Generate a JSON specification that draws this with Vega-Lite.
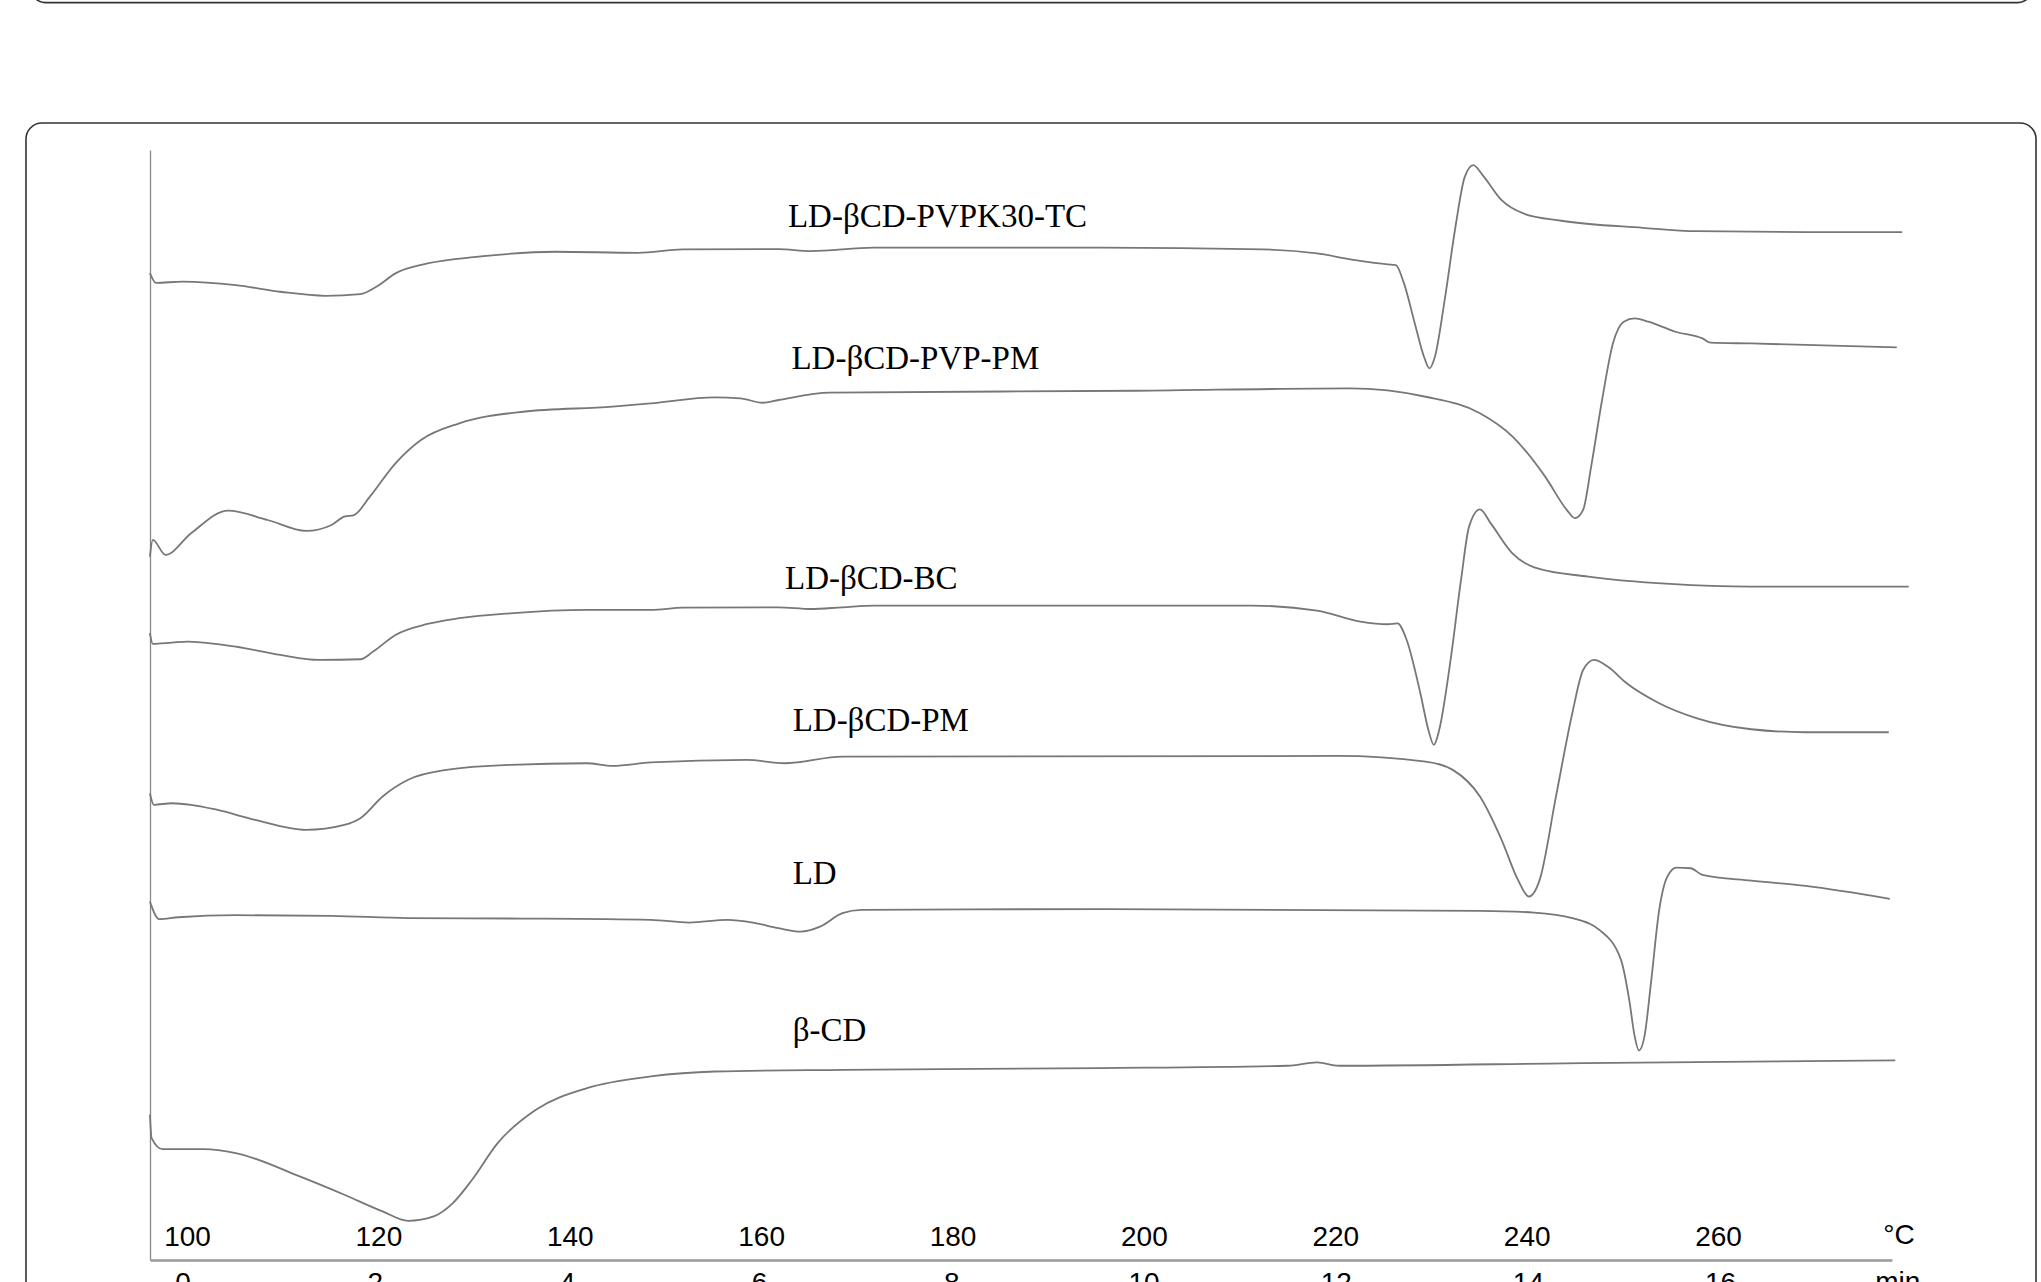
{
  "$schema": "https://vega.github.io/schema/vega-lite/v6.json",
  "autosize": {"type": "none"},
  "padding": {"left": 150, "top": 150, "right": 149, "bottom": 22},
  "width": 1742,
  "height": 1110,
  "background": "white",
  "config": {"view": {"stroke": null}, "axis": {"grid": false}},
  "datasets": {
    "curves": [
      {"sample": "LD-βCD-PVPK30-TC", "temp": 96.12, "signal": 757.5},
      {"sample": "LD-βCD-PVPK30-TC", "temp": 96.76, "signal": 750.0},
      {"sample": "LD-βCD-PVPK30-TC", "temp": 99.52, "signal": 751.0},
      {"sample": "LD-βCD-PVPK30-TC", "temp": 105.09, "signal": 748.3},
      {"sample": "LD-βCD-PVPK30-TC", "temp": 109.77, "signal": 743.2},
      {"sample": "LD-βCD-PVPK30-TC", "temp": 114.44, "signal": 740.1},
      {"sample": "LD-βCD-PVPK30-TC", "temp": 118.11, "signal": 741.4},
      {"sample": "LD-βCD-PVPK30-TC", "temp": 119.78, "signal": 747.0},
      {"sample": "LD-βCD-PVPK30-TC", "temp": 121.78, "signal": 757.3},
      {"sample": "LD-βCD-PVPK30-TC", "temp": 125.12, "signal": 764.9},
      {"sample": "LD-βCD-PVPK30-TC", "temp": 130.47, "signal": 770.1},
      {"sample": "LD-βCD-PVPK30-TC", "temp": 138.46, "signal": 773.9},
      {"sample": "LD-βCD-PVPK30-TC", "temp": 147.13, "signal": 773.1},
      {"sample": "LD-βCD-PVPK30-TC", "temp": 151.81, "signal": 775.7},
      {"sample": "LD-βCD-PVPK30-TC", "temp": 161.82, "signal": 775.9},
      {"sample": "LD-βCD-PVPK30-TC", "temp": 165.16, "signal": 774.4},
      {"sample": "LD-βCD-PVPK30-TC", "temp": 171.79, "signal": 777.0},
      {"sample": "LD-βCD-PVPK30-TC", "temp": 195.41, "signal": 777.0},
      {"sample": "LD-βCD-PVPK30-TC", "temp": 212.43, "signal": 775.7},
      {"sample": "LD-βCD-PVPK30-TC", "temp": 218.09, "signal": 772.6},
      {"sample": "LD-βCD-PVPK30-TC", "temp": 222.06, "signal": 767.5},
      {"sample": "LD-βCD-PVPK30-TC", "temp": 225.48, "signal": 764.2},
      {"sample": "LD-βCD-PVPK30-TC", "temp": 226.33, "signal": 763.7},
      {"sample": "LD-βCD-PVPK30-TC", "temp": 227.18, "signal": 749.6},
      {"sample": "LD-βCD-PVPK30-TC", "temp": 228.31, "signal": 718.9},
      {"sample": "LD-βCD-PVPK30-TC", "temp": 229.27, "signal": 693.3},
      {"sample": "LD-βCD-PVPK30-TC", "temp": 229.84, "signal": 684.4},
      {"sample": "LD-βCD-PVPK30-TC", "temp": 230.41, "signal": 693.3},
      {"sample": "LD-βCD-PVPK30-TC", "temp": 231.43, "signal": 736.8},
      {"sample": "LD-βCD-PVPK30-TC", "temp": 232.56, "signal": 793.1},
      {"sample": "LD-βCD-PVPK30-TC", "temp": 233.53, "signal": 831.4},
      {"sample": "LD-βCD-PVPK30-TC", "temp": 234.43, "signal": 840.4},
      {"sample": "LD-βCD-PVPK30-TC", "temp": 235.40, "signal": 832.7},
      {"sample": "LD-βCD-PVPK30-TC", "temp": 237.38, "signal": 813.5},
      {"sample": "LD-βCD-PVPK30-TC", "temp": 239.66, "signal": 803.3},
      {"sample": "LD-βCD-PVPK30-TC", "temp": 243.62, "signal": 797.7},
      {"sample": "LD-βCD-PVPK30-TC", "temp": 252.14, "signal": 792.3},
      {"sample": "LD-βCD-PVPK30-TC", "temp": 257.79, "signal": 789.7},
      {"sample": "LD-βCD-PVPK30-TC", "temp": 269.15, "signal": 789.0},
      {"sample": "LD-βCD-PVPK30-TC", "temp": 279.25, "signal": 789.0},

      {"sample": "LD-βCD-PVP-PM", "temp": 96.12, "signal": 539.9},
      {"sample": "LD-βCD-PVP-PM", "temp": 96.42, "signal": 552.7},
      {"sample": "LD-βCD-PVP-PM", "temp": 97.75, "signal": 541.2},
      {"sample": "LD-βCD-PVP-PM", "temp": 100.42, "signal": 557.8},
      {"sample": "LD-βCD-PVP-PM", "temp": 104.29, "signal": 575.2},
      {"sample": "LD-βCD-PVP-PM", "temp": 108.43, "signal": 568.0},
      {"sample": "LD-βCD-PVP-PM", "temp": 112.44, "signal": 559.6},
      {"sample": "LD-βCD-PVP-PM", "temp": 115.10, "signal": 564.2},
      {"sample": "LD-βCD-PVP-PM", "temp": 116.44, "signal": 570.6},
      {"sample": "LD-βCD-PVP-PM", "temp": 117.45, "signal": 571.8},
      {"sample": "LD-βCD-PVP-PM", "temp": 119.11, "signal": 585.9},
      {"sample": "LD-βCD-PVP-PM", "temp": 121.78, "signal": 611.5},
      {"sample": "LD-βCD-PVP-PM", "temp": 124.45, "signal": 629.4},
      {"sample": "LD-βCD-PVP-PM", "temp": 128.45, "signal": 642.2},
      {"sample": "LD-βCD-PVP-PM", "temp": 135.13, "signal": 651.1},
      {"sample": "LD-βCD-PVP-PM", "temp": 144.47, "signal": 655.0},
      {"sample": "LD-βCD-PVP-PM", "temp": 148.47, "signal": 657.5},
      {"sample": "LD-βCD-PVP-PM", "temp": 155.15, "signal": 662.1},
      {"sample": "LD-βCD-PVP-PM", "temp": 157.82, "signal": 661.4},
      {"sample": "LD-βCD-PVP-PM", "temp": 160.16, "signal": 658.0},
      {"sample": "LD-βCD-PVP-PM", "temp": 161.82, "signal": 660.1},
      {"sample": "LD-βCD-PVP-PM", "temp": 167.16, "signal": 665.7},
      {"sample": "LD-βCD-PVP-PM", "temp": 199.18, "signal": 667.2},
      {"sample": "LD-βCD-PVP-PM", "temp": 221.50, "signal": 669.0},
      {"sample": "LD-βCD-PVP-PM", "temp": 229.44, "signal": 662.6},
      {"sample": "LD-βCD-PVP-PM", "temp": 235.12, "signal": 649.9},
      {"sample": "LD-βCD-PVP-PM", "temp": 238.53, "signal": 632.0},
      {"sample": "LD-βCD-PVP-PM", "temp": 241.93, "signal": 601.3},
      {"sample": "LD-βCD-PVP-PM", "temp": 244.19, "signal": 575.8},
      {"sample": "LD-βCD-PVP-PM", "temp": 245.04, "signal": 569.4},
      {"sample": "LD-βCD-PVP-PM", "temp": 245.90, "signal": 575.8},
      {"sample": "LD-βCD-PVP-PM", "temp": 246.74, "signal": 609.0},
      {"sample": "LD-βCD-PVP-PM", "temp": 247.88, "signal": 660.1},
      {"sample": "LD-βCD-PVP-PM", "temp": 249.02, "signal": 703.6},
      {"sample": "LD-βCD-PVP-PM", "temp": 250.15, "signal": 720.2},
      {"sample": "LD-βCD-PVP-PM", "temp": 251.29, "signal": 722.7},
      {"sample": "LD-βCD-PVP-PM", "temp": 252.71, "signal": 720.2},
      {"sample": "LD-βCD-PVP-PM", "temp": 255.54, "signal": 712.5},
      {"sample": "LD-βCD-PVP-PM", "temp": 258.37, "signal": 707.4},
      {"sample": "LD-βCD-PVP-PM", "temp": 259.22, "signal": 704.1},
      {"sample": "LD-βCD-PVP-PM", "temp": 263.48, "signal": 703.5},
      {"sample": "LD-βCD-PVP-PM", "temp": 278.68, "signal": 700.5},

      {"sample": "LD-βCD-BC", "temp": 96.12, "signal": 481.1},
      {"sample": "LD-βCD-BC", "temp": 96.42, "signal": 472.9},
      {"sample": "LD-βCD-BC", "temp": 98.42, "signal": 473.9},
      {"sample": "LD-βCD-BC", "temp": 100.10, "signal": 474.7},
      {"sample": "LD-βCD-BC", "temp": 101.76, "signal": 473.9},
      {"sample": "LD-βCD-BC", "temp": 105.09, "signal": 470.8},
      {"sample": "LD-βCD-BC", "temp": 109.77, "signal": 464.4},
      {"sample": "LD-βCD-BC", "temp": 113.77, "signal": 460.6},
      {"sample": "LD-βCD-BC", "temp": 118.11, "signal": 461.1},
      {"sample": "LD-βCD-BC", "temp": 119.45, "signal": 467.0},
      {"sample": "LD-βCD-BC", "temp": 121.78, "signal": 479.8},
      {"sample": "LD-βCD-BC", "temp": 125.12, "signal": 488.2},
      {"sample": "LD-βCD-BC", "temp": 128.45, "signal": 492.6},
      {"sample": "LD-βCD-BC", "temp": 133.79, "signal": 496.4},
      {"sample": "LD-βCD-BC", "temp": 141.80, "signal": 499.0},
      {"sample": "LD-βCD-BC", "temp": 148.47, "signal": 499.0},
      {"sample": "LD-βCD-BC", "temp": 151.81, "signal": 500.7},
      {"sample": "LD-βCD-BC", "temp": 161.82, "signal": 501.0},
      {"sample": "LD-βCD-BC", "temp": 165.16, "signal": 499.7},
      {"sample": "LD-βCD-BC", "temp": 168.49, "signal": 501.0},
      {"sample": "LD-βCD-BC", "temp": 171.83, "signal": 502.3},
      {"sample": "LD-βCD-BC", "temp": 211.29, "signal": 502.3},
      {"sample": "LD-βCD-BC", "temp": 218.10, "signal": 498.5},
      {"sample": "LD-βCD-BC", "temp": 222.63, "signal": 490.0},
      {"sample": "LD-βCD-BC", "temp": 225.48, "signal": 488.0},
      {"sample": "LD-βCD-BC", "temp": 226.50, "signal": 488.7},
      {"sample": "LD-βCD-BC", "temp": 227.46, "signal": 475.9},
      {"sample": "LD-βCD-BC", "temp": 228.89, "signal": 435.0},
      {"sample": "LD-βCD-BC", "temp": 229.73, "signal": 406.9},
      {"sample": "LD-βCD-BC", "temp": 230.30, "signal": 395.4},
      {"sample": "LD-βCD-BC", "temp": 230.86, "signal": 406.9},
      {"sample": "LD-βCD-BC", "temp": 232.00, "signal": 458.0},
      {"sample": "LD-βCD-BC", "temp": 233.14, "signal": 522.0},
      {"sample": "LD-βCD-BC", "temp": 233.98, "signal": 562.9},
      {"sample": "LD-βCD-BC", "temp": 235.12, "signal": 576.2},
      {"sample": "LD-βCD-BC", "temp": 236.25, "signal": 565.4},
      {"sample": "LD-βCD-BC", "temp": 238.51, "signal": 542.4},
      {"sample": "LD-βCD-BC", "temp": 240.79, "signal": 531.7},
      {"sample": "LD-βCD-BC", "temp": 246.45, "signal": 524.5},
      {"sample": "LD-βCD-BC", "temp": 254.98, "signal": 518.9},
      {"sample": "LD-βCD-BC", "temp": 263.48, "signal": 516.9},
      {"sample": "LD-βCD-BC", "temp": 279.93, "signal": 516.9},

      {"sample": "LD-βCD-PM", "temp": 96.12, "signal": 358.3},
      {"sample": "LD-βCD-PM", "temp": 96.53, "signal": 349.4},
      {"sample": "LD-βCD-PM", "temp": 98.42, "signal": 350.6},
      {"sample": "LD-βCD-PM", "temp": 100.42, "signal": 349.4},
      {"sample": "LD-βCD-PM", "temp": 103.09, "signal": 345.6},
      {"sample": "LD-βCD-PM", "temp": 107.10, "signal": 337.9},
      {"sample": "LD-βCD-PM", "temp": 112.44, "signal": 330.2},
      {"sample": "LD-βCD-PM", "temp": 116.44, "signal": 334.0},
      {"sample": "LD-βCD-PM", "temp": 118.11, "signal": 339.1},
      {"sample": "LD-βCD-PM", "temp": 120.44, "signal": 355.8},
      {"sample": "LD-βCD-PM", "temp": 123.11, "signal": 368.6},
      {"sample": "LD-βCD-PM", "temp": 127.12, "signal": 376.2},
      {"sample": "LD-βCD-PM", "temp": 133.79, "signal": 380.1},
      {"sample": "LD-βCD-PM", "temp": 141.80, "signal": 381.3},
      {"sample": "LD-βCD-PM", "temp": 144.47, "signal": 379.3},
      {"sample": "LD-βCD-PM", "temp": 148.47, "signal": 381.9},
      {"sample": "LD-βCD-PM", "temp": 158.48, "signal": 383.9},
      {"sample": "LD-βCD-PM", "temp": 162.49, "signal": 381.3},
      {"sample": "LD-βCD-PM", "temp": 168.49, "signal": 386.4},
      {"sample": "LD-βCD-PM", "temp": 220.22, "signal": 386.9},
      {"sample": "LD-βCD-PM", "temp": 229.44, "signal": 382.6},
      {"sample": "LD-βCD-PM", "temp": 232.28, "signal": 376.2},
      {"sample": "LD-βCD-PM", "temp": 235.12, "signal": 355.7},
      {"sample": "LD-βCD-PM", "temp": 237.38, "signal": 322.5},
      {"sample": "LD-βCD-PM", "temp": 239.09, "signal": 291.8},
      {"sample": "LD-βCD-PM", "temp": 240.23, "signal": 279.0},
      {"sample": "LD-βCD-PM", "temp": 241.36, "signal": 291.8},
      {"sample": "LD-βCD-PM", "temp": 243.06, "signal": 355.7},
      {"sample": "LD-βCD-PM", "temp": 244.77, "signal": 419.7},
      {"sample": "LD-βCD-PM", "temp": 245.90, "signal": 452.9},
      {"sample": "LD-βCD-PM", "temp": 247.04, "signal": 460.6},
      {"sample": "LD-βCD-PM", "temp": 248.46, "signal": 455.5},
      {"sample": "LD-βCD-PM", "temp": 250.45, "signal": 442.7},
      {"sample": "LD-βCD-PM", "temp": 253.85, "signal": 427.4},
      {"sample": "LD-βCD-PM", "temp": 257.81, "signal": 415.8},
      {"sample": "LD-βCD-PM", "temp": 263.48, "signal": 407.4},
      {"sample": "LD-βCD-PM", "temp": 269.16, "signal": 405.1},
      {"sample": "LD-βCD-PM", "temp": 277.84, "signal": 405.1},

      {"sample": "LD", "temp": 96.12, "signal": 275.2},
      {"sample": "LD", "temp": 97.09, "signal": 261.6},
      {"sample": "LD", "temp": 99.09, "signal": 263.1},
      {"sample": "LD", "temp": 105.09, "signal": 264.7},
      {"sample": "LD", "temp": 115.10, "signal": 264.2},
      {"sample": "LD", "temp": 123.11, "signal": 262.4},
      {"sample": "LD", "temp": 135.13, "signal": 262.1},
      {"sample": "LD", "temp": 148.47, "signal": 261.1},
      {"sample": "LD", "temp": 152.48, "signal": 259.0},
      {"sample": "LD", "temp": 156.48, "signal": 261.1},
      {"sample": "LD", "temp": 159.15, "signal": 259.0},
      {"sample": "LD", "temp": 161.82, "signal": 254.7},
      {"sample": "LD", "temp": 164.15, "signal": 252.1},
      {"sample": "LD", "temp": 166.15, "signal": 255.9},
      {"sample": "LD", "temp": 168.49, "signal": 266.2},
      {"sample": "LD", "temp": 170.50, "signal": 268.7},
      {"sample": "LD", "temp": 181.84, "signal": 269.2},
      {"sample": "LD", "temp": 195.41, "signal": 269.3},
      {"sample": "LD", "temp": 235.12, "signal": 268.0},
      {"sample": "LD", "temp": 240.79, "signal": 266.7},
      {"sample": "LD", "temp": 244.77, "signal": 262.4},
      {"sample": "LD", "temp": 247.60, "signal": 253.4},
      {"sample": "LD", "temp": 249.86, "signal": 230.4},
      {"sample": "LD", "temp": 250.72, "signal": 199.7},
      {"sample": "LD", "temp": 251.29, "signal": 171.6},
      {"sample": "LD", "temp": 251.74, "signal": 160.8},
      {"sample": "LD", "temp": 252.31, "signal": 171.6},
      {"sample": "LD", "temp": 252.99, "signal": 212.5},
      {"sample": "LD", "temp": 253.85, "signal": 268.7},
      {"sample": "LD", "temp": 254.70, "signal": 294.3},
      {"sample": "LD", "temp": 255.66, "signal": 301.2},
      {"sample": "LD", "temp": 257.14, "signal": 300.7},
      {"sample": "LD", "temp": 258.37, "signal": 295.6},
      {"sample": "LD", "temp": 263.48, "signal": 291.2},
      {"sample": "LD", "temp": 269.16, "signal": 287.1},
      {"sample": "LD", "temp": 277.95, "signal": 277.2},

      {"sample": "β-CD", "temp": 96.12, "signal": 111.5},
      {"sample": "β-CD", "temp": 96.30, "signal": 93.6},
      {"sample": "β-CD", "temp": 97.44, "signal": 85.1},
      {"sample": "β-CD", "temp": 101.76, "signal": 85.1},
      {"sample": "β-CD", "temp": 105.09, "signal": 82.1},
      {"sample": "β-CD", "temp": 111.77, "signal": 64.2},
      {"sample": "β-CD", "temp": 116.44, "signal": 50.1},
      {"sample": "β-CD", "temp": 120.44, "signal": 37.3},
      {"sample": "β-CD", "temp": 123.11, "signal": 30.1},
      {"sample": "β-CD", "temp": 125.78, "signal": 33.5},
      {"sample": "β-CD", "temp": 127.78, "signal": 43.7},
      {"sample": "β-CD", "temp": 129.79, "signal": 61.6},
      {"sample": "β-CD", "temp": 132.46, "signal": 89.7},
      {"sample": "β-CD", "temp": 136.46, "signal": 115.3},
      {"sample": "β-CD", "temp": 141.80, "signal": 131.9},
      {"sample": "β-CD", "temp": 148.47, "signal": 140.9},
      {"sample": "β-CD", "temp": 155.15, "signal": 144.7},
      {"sample": "β-CD", "temp": 168.49, "signal": 146.0},
      {"sample": "β-CD", "temp": 195.41, "signal": 147.3},
      {"sample": "β-CD", "temp": 215.02, "signal": 149.1},
      {"sample": "β-CD", "temp": 218.10, "signal": 151.7},
      {"sample": "β-CD", "temp": 220.36, "signal": 149.1},
      {"sample": "β-CD", "temp": 245.91, "signal": 151.1},
      {"sample": "β-CD", "temp": 278.52, "signal": 153.2}
    ],
    "labels": [
      {"label": "LD-βCD-PVPK30-TC", "temp": 162.8, "signal": 800.7},
      {"label": "LD-βCD-PVP-PM", "temp": 163.16, "signal": 691.4},
      {"label": "LD-βCD-BC", "temp": 162.49, "signal": 522.6},
      {"label": "LD-βCD-PM", "temp": 163.29, "signal": 413.9},
      {"label": "LD", "temp": 163.29, "signal": 296.2},
      {"label": "β-CD", "temp": 163.29, "signal": 176.1}
    ]
  },
  "layer": [
    {
      "layer": [
        {
          "data": {"values": [{}]},
          "mark": {"type": "rect", "filled": false, "stroke": "#333333", "strokeWidth": 1.6, "cornerRadius": 16},
          "encoding": {
            "x": {"datum": 83.59, "type": "quantitative", "scale": {"domain": [96.13, 278.18], "nice": false, "zero": false}},
            "x2": {"datum": 292.92},
            "y": {"datum": 965.1, "type": "quantitative", "scale": {"domain": [0, 852], "nice": false, "zero": false}},
            "y2": {"datum": 1300}
          }
        },
        {
          "data": {"values": [{}]},
          "mark": {"type": "rect", "filled": false, "stroke": "#333333", "strokeWidth": 1.6, "cornerRadius": 16},
          "encoding": {
            "x": {"datum": 83.17, "type": "quantitative", "scale": {"domain": [96.13, 278.18], "nice": false, "zero": false}},
            "x2": {"datum": 293.23},
            "y": {"datum": 872.7, "type": "quantitative", "scale": {"domain": [0, 852], "nice": false, "zero": false}},
            "y2": {"datum": -150}
          }
        },
        {
          "data": {"name": "curves"},
          "mark": {"type": "line", "stroke": "#777777", "strokeWidth": 1.8, "interpolate": "monotone"},
          "encoding": {
            "x": {
              "field": "temp", "type": "quantitative",
              "scale": {"domain": [96.13, 278.18], "nice": false, "zero": false},
              "axis": {
                "title": null, "orient": "bottom", "values": [100, 120, 140, 160, 180, 200, 220, 240, 260],
                "ticks": false, "tickSize": 0, "grid": false,
                "domainColor": "#999999", "domainWidth": 2.5,
                "labelPadding": -23, "labelBaseline": "middle",
                "labelFont": "Liberation Sans", "labelFontSize": 28, "labelColor": "#000000",
                "labelFlush": false, "labelOverlap": false
              }
            },
            "y": {
              "field": "signal", "type": "quantitative",
              "scale": {"domain": [0, 852], "nice": false, "zero": false},
              "axis": {"title": null, "ticks": false, "labels": false, "grid": false, "domainColor": "#888888", "domainWidth": 1.3}
            },
            "detail": {"field": "sample"}
          }
        },
        {
          "data": {"name": "labels"},
          "mark": {"type": "text", "align": "left", "baseline": "middle", "font": "Liberation Serif", "fontSize": 33, "color": "#000000"},
          "encoding": {
            "x": {"field": "temp", "type": "quantitative", "scale": {"domain": [96.13, 278.18], "nice": false, "zero": false}},
            "y": {"field": "signal", "type": "quantitative", "scale": {"domain": [0, 852], "nice": false, "zero": false}},
            "text": {"field": "label"}
          }
        },
        {
          "data": {"values": [{}]},
          "mark": {"type": "text", "align": "center", "baseline": "middle", "font": "Liberation Sans", "fontSize": 28, "color": "#000000"},
          "encoding": {
            "x": {"datum": 278.9, "type": "quantitative", "scale": {"domain": [96.13, 278.18], "nice": false, "zero": false}},
            "y": {"datum": 18.8, "type": "quantitative", "scale": {"domain": [0, 852], "nice": false, "zero": false}},
            "text": {"value": "°C"}
          }
        }
      ]
    },
    {
      "data": {"values": [{}]},
      "mark": {"type": "text", "align": "center", "baseline": "top", "font": "Liberation Sans", "fontSize": 28, "color": "#000000"},
      "encoding": {
        "x": {
          "datum": 17.85, "type": "quantitative",
          "scale": {"domain": [-0.339, 17.789], "nice": false, "zero": false},
          "axis": {
            "title": null, "orient": "bottom", "offset": 0, "values": [0, 2, 4, 6, 8, 10, 12, 14, 16],
            "domain": false, "ticks": false, "tickSize": 0, "grid": false,
            "labelPadding": 9, "labelFont": "Liberation Sans", "labelFontSize": 28, "labelColor": "#000000",
            "labelFlush": false, "labelOverlap": false
          }
        },
        "y": {"datum": -6.9, "type": "quantitative", "scale": {"domain": [0, 852], "nice": false, "zero": false}},
        "text": {"value": "min"}
      }
    }
  ],
  "resolve": {"scale": {"x": "independent"}, "axis": {"x": "independent"}}
}
